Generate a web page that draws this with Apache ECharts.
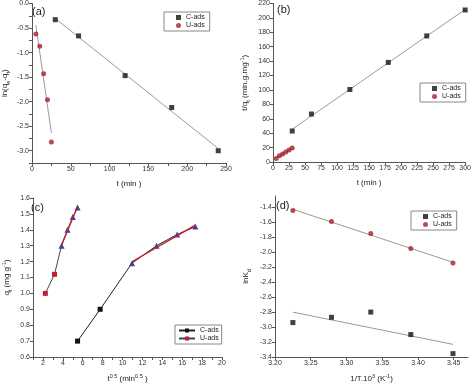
<!DOCTYPE html>
<html><head><meta charset="utf-8">
<script src="https://cdn.jsdelivr.net/npm/echarts@6/dist/echarts.min.js"></script>
<style>html,body{margin:0;padding:0;background:#fff}#c{width:474px;height:384px}</style>
</head><body><div id="c"></div>
<script>
// ---- data ----
// (a) pseudo-first order
const aC_t = [30, 60, 120, 180, 240];
const aC_y = [-0.33, -0.66, -1.47, -2.12, -3.0];
const aU_t = [5, 10, 15, 20, 25];
const aU_y = [-0.62, -0.87, -1.43, -1.96, -2.82];
// (b) pseudo-second order
const bC_t = [30, 60, 120, 180, 240, 300];
const bC_y = [43, 66.6, 100.6, 138.2, 175, 211];
const bU_t = [5, 10, 15, 20, 25, 30];
const bU_y = [4.8, 8.6, 11.2, 13.8, 16.6, 19.6];
// (c) intraparticle diffusion
const cC_x = [5.48, 7.75, 10.95, 13.42, 15.49, 17.32];
const cC_y = [0.70, 0.90, 1.19, 1.30, 1.37, 1.42];
const cU_x = [2.24, 3.16, 3.87, 4.47, 5.00, 5.48];
const cU_y = [1.00, 1.12, 1.30, 1.40, 1.48, 1.54];
// (d) van't Hoff
const dC_x = [3.225, 3.279, 3.334, 3.390, 3.449];
const dC_y = [-2.94, -2.87, -2.80, -3.10, -3.355];
const dU_x = [3.225, 3.279, 3.334, 3.390, 3.449];
const dU_y = [-1.444, -1.59, -1.752, -1.951, -2.146];

const zip = (xs, ys) => xs.map((x, i) => [x, ys[i]]);
function fit(xs, ys) {
  const n = xs.length;
  const mx = xs.reduce((a, b) => a + b, 0) / n;
  const my = ys.reduce((a, b) => a + b, 0) / n;
  let sxy = 0, sxx = 0;
  for (let i = 0; i < n; i++) { sxy += (xs[i] - mx) * (ys[i] - my); sxx += (xs[i] - mx) ** 2; }
  const k = sxy / sxx, b = my - k * mx;
  const x0 = Math.min(...xs), x1 = Math.max(...xs);
  return [[x0, k * x0 + b], [x1, k * x1 + b]];
}

const FONT = 'Liberation Sans, Arial, sans-serif';
const AX = '#555';
const rich = {
  n: {fontSize: 8, lineHeight: 12, fontFamily: FONT, color: '#222', verticalAlign: 'middle'},
  s: {fontSize: 5.5, fontFamily: FONT, color: '#222', verticalAlign: 'bottom'},
  p: {fontSize: 5.5, fontFamily: FONT, color: '#222', verticalAlign: 'top'}
};

function axis(gi, min, max, interval, fmt, name, gap, rotate) {
  return {
    type: 'value', gridIndex: gi, min, max, interval,
    name, nameLocation: 'middle', nameGap: gap, nameRotate: rotate ? 90 : 0,
    nameTextStyle: {rich, fontSize: 8, fontFamily: FONT, color: '#222'},
    axisLine: {show: true, onZero: false, lineStyle: {color: AX, width: 1}},
    axisTick: {show: true, length: 3, lineStyle: {color: AX}},
    minorTick: {show: false},
    splitLine: {show: false},
    axisLabel: {fontSize: 7, fontFamily: FONT, color: '#333', margin: 3, formatter: fmt, showMaxLabel: true, showMinLabel: true}
  };
}
const half = v => Math.abs(v * 2 - Math.round(v * 2)) < 1e-6 ? v.toFixed(1) : '';
const even = v => Math.abs(v / 2 - Math.round(v / 2)) < 1e-6 ? String(Math.round(v)) : '';

const grids = [
  {left: 28, top: 3, width: 198, height: 160},
  {left: 273, top: 3, width: 195, height: 159},
  {left: 27, top: 198, width: 195, height: 160},
  {left: 275, top: 196, width: 193, height: 163}
];

const xAxes = [
  axis(0, 0, 250, 25, v => v % 50 === 0 ? String(v) : '', 't (min )', 17),
  axis(1, 0, 300, 25, v => String(v), 't (min )', 17),
  axis(2, 1, 20, 1, even, '{n|t}{p|0.5}{n| (min}{p|0.5}{n| )}', 16),
  axis(3, 3.20, 3.47, 0.05, v => v.toFixed(2), '{n|1/T.10}{p|3}{n| (K}{p|-1}{n|)}', 16)
];
xAxes[3].axisLabel.showMaxLabel = false;
const yAxes = [
  axis(0, -3.25, 0, 0.25, half, '{n|ln(q}{s|e}{n|-q}{s|t}{n|)}', 21, true),
  axis(1, 0, 220, 20, v => String(v), '{n|t/q}{s|t}{n| (min.g.mg}{p|-1}{n|)}', 22, true),
  axis(2, 0.6, 1.6, 0.1, v => v.toFixed(1), '{n|q}{s|t}{n| (mg g}{p|-1}{n|)}', 20, true),
  axis(3, -3.4, -1.25, 0.2, v => v.toFixed(1), '{n|lnK}{s|d}', 23, true)
];
yAxes[3].axisLabel.showMaxLabel = false;

const BLK = '#111', RED = '#a51f2b', BLUE = '#3e429c', GRAY = '#9a9a9a';
const fitLine = (gi, pts, color, w, z) => ({
  type: 'line', xAxisIndex: gi, yAxisIndex: gi, data: pts, symbol: 'none', silent: true,
  lineStyle: {color, width: w}, z: z || 1, animation: false
});
const sc = (name, gi, xs, ys, symbol, color) => ({
  name, type: 'scatter', xAxisIndex: gi, yAxisIndex: gi, data: zip(xs, ys),
  symbol, symbolSize: 5, itemStyle: {color}, z: 3, animation: false
});
const cLine = (name, xs, ys, first, lineColor) => ({
  name, type: 'line', xAxisIndex: 2, yAxisIndex: 2, symbol: 'rect', symbolSize: 5,
  itemStyle: {color: first}, lineStyle: {color: lineColor, width: 1}, z: 2, animation: false,
  data: xs.map((x, i) => i < 2 ? [x, ys[i]] : {value: [x, ys[i]], symbol: 'triangle', symbolSize: 6, itemStyle: {color: BLUE}})
});

const series = [
  fitLine(0, fit(aC_t, aC_y), GRAY, 1),
  fitLine(0, fit(aU_t, aU_y), GRAY, 1),
  sc('C-ads|a', 0, aC_t, aC_y, 'rect', BLK),
  sc('U-ads|a', 0, aU_t, aU_y, 'circle', RED),
  fitLine(1, fit(bC_t, bC_y), GRAY, 1),
  fitLine(1, fit(bU_t, bU_y), GRAY, 1),
  sc('C-ads|b', 1, bC_t, bC_y, 'rect', BLK),
  sc('U-ads|b', 1, bU_t, bU_y, 'circle', RED),
  cLine('C-ads|c', cC_x, cC_y, BLK, '#222'),
  cLine('U-ads|c', cU_x, cU_y, '#c01f33', '#2f4f4f'),
  fitLine(2, fit(cC_x.slice(2), cC_y.slice(2)), '#c0202a', 1.4, 4),
  fitLine(2, fit(cU_x.slice(2), cU_y.slice(2)), '#c0202a', 1.4, 4),
  fitLine(3, fit(dC_x, dC_y), GRAY, 1),
  fitLine(3, fit(dU_x, dU_y), GRAY, 1),
  sc('C-ads|d', 3, dC_x, dC_y, 'rect', BLK),
  sc('U-ads|d', 3, dU_x, dU_y, 'circle', RED)
];

const leg = (tag, left, top, iw) => ({
  data: ['C-ads|' + tag, 'U-ads|' + tag], left, top, orient: 'vertical',
  formatter: n => n.split('|')[0], selectedMode: false,
  itemWidth: iw, itemHeight: 5, itemGap: 1,
  padding: iw > 8 ? [2, 3, 2, 3] : [2, 5, 2, 12],
  borderColor: '#888', borderWidth: 1,
  textStyle: {fontSize: 7, fontFamily: FONT, color: '#222', padding: [0, 0, 0, 0]}
});

const labels = [['(a)', 32, 6], ['(b)', 277, 4], ['(c)', 31, 202], ['(d)', 276, 200]];

const chart = echarts.init(document.getElementById('c'), null, {renderer: 'canvas'});
chart.setOption({
  animation: false,
  backgroundColor: '#fff',
  grid: grids,
  xAxis: xAxes,
  yAxis: yAxes,
  legend: [leg('a', 164, 12, 5), leg('b', 420, 83, 5), leg('c', 175, 325, 16), leg('d', 411, 211, 5)],
  graphic: labels.map(([t, x, y]) => ({type: 'text', left: x, top: y, style: {text: t, fontSize: 11, fontFamily: FONT, fill: '#222'}})),
  series
});
</script></body></html>
